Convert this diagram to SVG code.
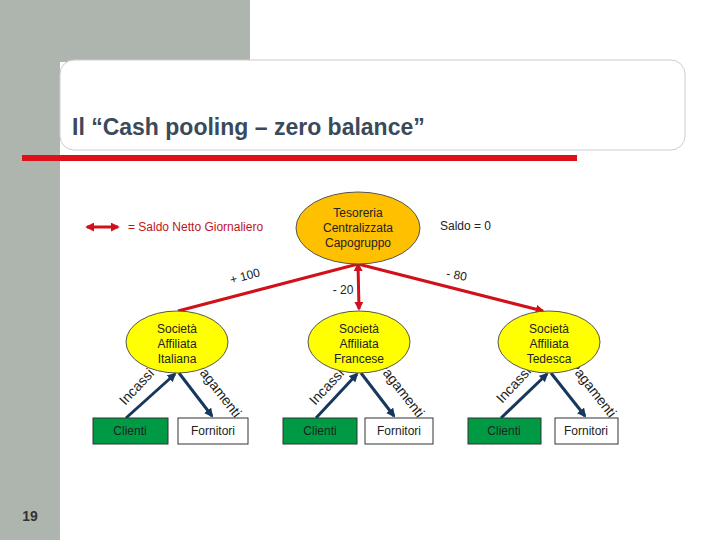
<svg xmlns="http://www.w3.org/2000/svg" width="720" height="540" viewBox="0 0 720 540">
<style>
text{font-family:"Liberation Sans",Arial,sans-serif}
.ell{fill:#FFFF00;stroke:#555;stroke-width:1}
.t{font-size:12px;fill:#222;text-anchor:middle}
.red{stroke:#D0101A;stroke-width:3;fill:none}
.blue{stroke:#17375E;stroke-width:3;fill:none}
.cl{fill:#009A44;stroke:#333}
.fo{fill:#fff;stroke:#333}
.rot{font-size:14px;fill:#222;text-anchor:middle}
</style>
<defs>
<marker id="ra" viewBox="0 0 10 10" refX="8" refY="5" markerWidth="3" markerHeight="3" orient="auto-start-reverse"><path d="M0,0L10,5L0,10z" fill="#D0101A"/></marker>
<marker id="ba" viewBox="0 0 10 10" refX="8" refY="5" markerWidth="3" markerHeight="3" orient="auto"><path d="M0,0L10,5L0,10z" fill="#17375E"/></marker>
</defs>
<rect width="720" height="540" fill="#fff"/>
<rect x="0" y="0" width="60" height="540" fill="#AEB4AE"/>
<rect x="0" y="0" width="250" height="62" fill="#AEB4AE"/>
<rect x="60" y="60" width="625" height="90" rx="14" fill="#fff" stroke="#ccc"/>
<text x="72" y="135" font-size="23" font-weight="bold" fill="#3A4A5A">Il “Cash pooling – zero balance”</text>
<line x1="22" y1="158" x2="577" y2="158" stroke="#E0101A" stroke-width="6"/>
<text x="30" y="521" font-size="14" font-weight="bold" fill="#333" text-anchor="middle">19</text>
<g id="legend">
<line x1="87" y1="227" x2="118" y2="227" class="red" marker-start="url(#ra)" marker-end="url(#ra)"/>
<text x="128" y="231" font-size="12" fill="#C0141C">= Saldo Netto Giornaliero</text>
<text x="440" y="230" font-size="12" fill="#222">Saldo = 0</text>
</g>
<g id="connectors">
<line x1="358" y1="264" x2="178" y2="311" class="red"/>
<line x1="358" y1="264" x2="359" y2="309" class="red" marker-start="url(#ra)" marker-end="url(#ra)"/>
<line x1="358" y1="264" x2="543" y2="311" class="red" marker-end="url(#ra)"/>
<text transform="translate(246,280) rotate(-15)" font-size="12" fill="#222" text-anchor="middle">+ 100</text>
<text x="343" y="294" font-size="12" fill="#222" text-anchor="middle">- 20</text>
<text transform="translate(456,279) rotate(10)" font-size="12" fill="#222" text-anchor="middle">- 80</text>
<line x1="126" y1="418" x2="175" y2="374" class="blue" marker-end="url(#ba)"/>
<line x1="179" y1="373" x2="212" y2="416" class="blue" marker-end="url(#ba)"/>
<line x1="316" y1="418" x2="357" y2="374" class="blue" marker-end="url(#ba)"/>
<line x1="361" y1="373" x2="394" y2="416" class="blue" marker-end="url(#ba)"/>
<line x1="501" y1="418" x2="547" y2="374" class="blue" marker-end="url(#ba)"/>
<line x1="551" y1="373" x2="585" y2="416" class="blue" marker-end="url(#ba)"/>
<text class="rot" transform="translate(140,390) rotate(-47)">Incassi</text>
<text class="rot" transform="translate(214,392) rotate(52)">Pagamenti</text>
<text class="rot" transform="translate(330,390) rotate(-47)">Incassi</text>
<text class="rot" transform="translate(397,392) rotate(52)">Pagamenti</text>
<text class="rot" transform="translate(517,388) rotate(-47)">Incassi</text>
<text class="rot" transform="translate(589,392) rotate(52)">Pagamenti</text>
</g>
<g id="tesoreria"><ellipse cx="358" cy="228" rx="62" ry="36" fill="#FFC000" stroke="#555"/>
<text class="t" x="358" y="217">Tesoreria</text><text class="t" x="358" y="232">Centralizzata</text><text class="t" x="358" y="247">Capogruppo</text></g>
<g id="italiana"><ellipse class="ell" cx="177" cy="342" rx="51" ry="31"/>
<text class="t" x="177" y="333">Società</text><text class="t" x="177" y="348">Affiliata</text><text class="t" x="177" y="363">Italiana</text></g>
<g id="francese"><ellipse class="ell" cx="359" cy="342" rx="51" ry="31"/>
<text class="t" x="359" y="333">Società</text><text class="t" x="359" y="348">Affiliata</text><text class="t" x="359" y="363">Francese</text></g>
<g id="tedesca"><ellipse class="ell" cx="549" cy="342" rx="51" ry="31"/>
<text class="t" x="549" y="333">Società</text><text class="t" x="549" y="348">Affiliata</text><text class="t" x="549" y="363">Tedesca</text></g>
<g id="clienti1"><rect class="cl" x="93" y="418" width="75" height="26"/><text class="t" x="130" y="435">Clienti</text></g>
<g id="fornitori1"><rect class="fo" x="178" y="418" width="70" height="26"/><text class="t" x="213" y="435">Fornitori</text></g>
<g id="clienti2"><rect class="cl" x="283" y="418" width="74" height="26"/><text class="t" x="320" y="435">Clienti</text></g>
<g id="fornitori2"><rect class="fo" x="365" y="418" width="68" height="26"/><text class="t" x="399" y="435">Fornitori</text></g>
<g id="clienti3"><rect class="cl" x="468" y="418" width="73" height="26"/><text class="t" x="504" y="435">Clienti</text></g>
<g id="fornitori3"><rect class="fo" x="555" y="418" width="63" height="26"/><text class="t" x="586" y="435">Fornitori</text></g>
</svg>
